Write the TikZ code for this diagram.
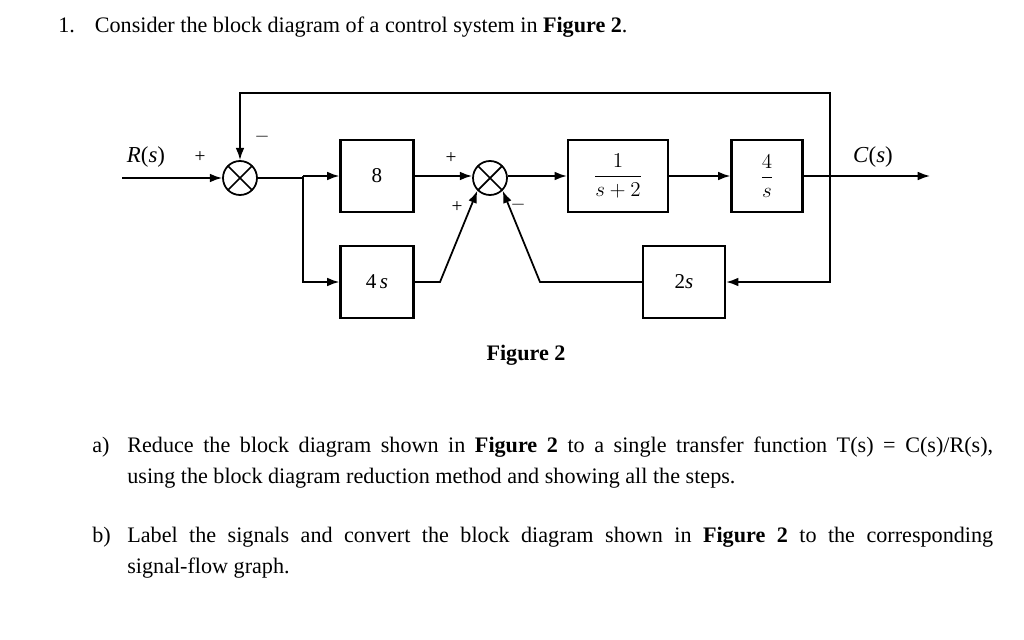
\documentclass[tikz,border=0pt]{standalone}
\usepackage{fontspec}
\setmainfont{Liberation Serif}
\usetikzlibrary{arrows.meta}
\begin{document}
\begin{tikzpicture}[x=0.02cm,y=-0.02cm,
  blk/.style={draw,line width=1.3pt,minimum width=#1,minimum height=1.44cm,inner sep=0pt},
  sum/.style={draw,line width=1pt,circle,minimum size=0.68cm,inner sep=0pt,
    path picture={\draw[line width=1pt] (path picture bounding box.north west)--(path picture bounding box.south east)
      (path picture bounding box.north east)--(path picture bounding box.south west);}},
  ln/.style={line width=1pt},
  arr/.style={line width=1pt,-{Latex[length=7pt,width=5pt]}},
  txt/.style={font=\fontsize{12.6}{15}\selectfont,inner sep=0pt},
  sg/.style={font=\fontsize{11}{13}\selectfont,inner sep=0pt}]
\useasboundingbox (0,0) rectangle (1024,639);
\node[txt,anchor=base west] (t1) at (58,32) {1.\hspace{0.9em}Consider the block diagram of a control system in \textbf{Figure 2}.};
% blocks
\node[sum] (s1) at (240,178) {};
\node[sum] (s2) at (490,178) {};
\node[blk=1.46cm] (b8) at (377,176) {\fontsize{12}{14}\selectfont 8};
\node[blk=1.46cm] (b4s) at (377,282) {\fontsize{12}{14}\selectfont 4\,\textit{s}};
\node[blk=2cm] (g1) at (618,176) {\fontsize{12}{14}\selectfont$\displaystyle\frac{1}{s+2}$};
\node[blk=1.42cm] (g2) at (767,176) {\fontsize{12}{14}\selectfont$\displaystyle\frac{4}{s}$};
\node[blk=1.64cm] (b2s) at (684,282) {\fontsize{12}{14}\selectfont 2\textit{s}};
\coordinate (in) at (122,178);
\coordinate (out) at (930,176);
\coordinate (br1) at (303,176);
\coordinate (br2) at (830,176);
\node[txt] (R) at (146,157) {\fontsize{13}{15}\selectfont\textit{R}(\textit{s})};
\node[txt] (C) at (873,157) {\fontsize{13}{15}\selectfont\textit{C}(\textit{s})};
\draw[arr] (in) -- (s1.west);
\draw[ln] (s1.east) -- (br1|-s1.east) -- (br1);
\draw[arr] (br1) -- (b8.west);
\draw[arr] (br1) |- (b4s.west);
\draw[arr] (b8.east) -- (s2.west|-b8.east);
\draw[arr] (s2.east|-g1.west) -- (g1.west);
\draw[arr] (g1.east) -- (g2.west);
\draw[arr] (g2.east) -- (out);
\draw[arr] (br2) |- (b2s.east);
\draw[arr] (br2) -- (830,93) -- (240,93) -- (s1.north);
\draw[arr] (b4s.east) -- (440,282) -- (s2.south west);
\draw[arr] (b2s.west) -- (540,282) -- (s2.south east);
\node[sg] at (200,157) {+};
\node[sg] at (262,137) {$-$};
\node[sg] at (451,158) {+};
\node[sg] at (457,207) {+};
\node[sg] at (518,205) {$-$};
\node[txt,font=\fontsize{12.6}{15}\selectfont\bfseries] (fig) at (526,355) {Figure 2};
% questions
\node[txt,anchor=base west] (qa) at (92,452) {a)};
\node[txt,anchor=base west] (qa1) at (127,452) {\makebox[17.32cm][s]{Reduce the block diagram shown in \textbf{Figure 2} to a single transfer function T(s) = C(s)/R(s),}};
\node[txt,anchor=base west] (qa2) at (127,483) {using the block diagram reduction method and showing all the steps.};
\node[txt,anchor=base west] (qb) at (92,542) {b)};
\node[txt,anchor=base west] (qb1) at (127,542) {\makebox[17.32cm][s]{Label the signals and convert the block diagram shown in \textbf{Figure 2} to the corresponding}};
\node[txt,anchor=base west] (qb2) at (127,573) {signal-flow graph.};
\end{tikzpicture}
\end{document}
